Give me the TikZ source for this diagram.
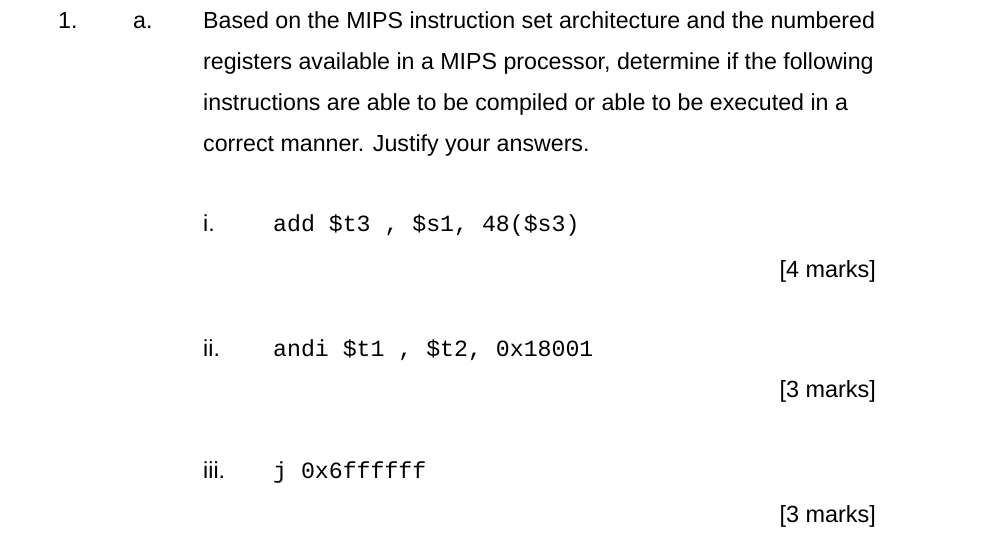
\documentclass[tikz,border=0pt]{standalone}
\usepackage{fontspec}
\setmainfont{Liberation Sans}
\setmonofont{Liberation Mono}
\begin{document}
\begin{tikzpicture}[x=1pt,y=-1pt,
  txt/.style={anchor=base west,inner sep=0pt,font=\fontsize{23.2}{28}\selectfont},
  code/.style={anchor=base west,inner sep=0pt,font=\fontsize{23.2}{28}\ttfamily},
  mk/.style={anchor=base east,inner sep=0pt,font=\fontsize{23.4}{28}\selectfont}]
\useasboundingbox (0,0) rectangle (998,557);
\node[txt] (n1) at (58,28) {1.};
\node[txt] (na) at (133,28) {a.};
\node[txt] (l1) at (203,28) {Based on the MIPS instruction set architecture and the numbered};
\node[txt] (l2) at (203,69) {registers available in a MIPS processor, determine if the following};
\node[txt] (l3) at (203,110) {instructions are able to be compiled or able to be executed in a};
\node[txt] (l4) at (203,151) {correct manner. Justify your answers.};
\node[txt] (ri) at (203,231) {i.};
\node[code] (ci) at (273,231) {add \$t3 , \$s1, 48(\$s3)};
\node[mk] (m1) at (876,277) {[4 marks]};
\node[txt] (rii) at (203,356) {ii.};
\node[code] (cii) at (273,356) {andi \$t1 , \$t2, 0x18001};
\node[mk] (m2) at (876,397) {[3 marks]};
\node[txt] (riii) at (203,478) {iii.};
\node[code] (ciii) at (273,478) {j 0x6ffffff};
\node[mk] (m3) at (876,522) {[3 marks]};
\end{tikzpicture}
\end{document}
